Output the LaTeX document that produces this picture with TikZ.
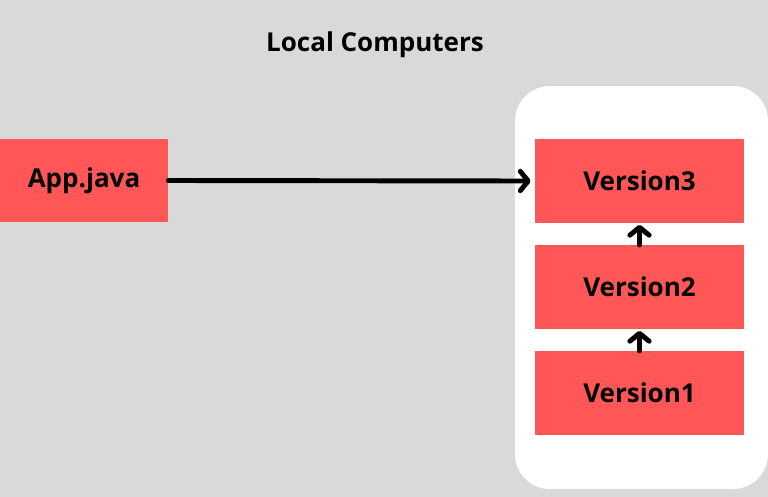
\documentclass[tikz,border=0pt]{standalone}
\usepackage{fontspec}
\setmainfont{Open Sans}
\usetikzlibrary{arrows.meta}
\definecolor{bggray}{HTML}{D9D9D9}
\definecolor{boxred}{HTML}{FF5757}
\tikzset{
    box/.style={fill=boxred, draw=none, minimum height=1.67cm, inner sep=0pt,
        font=\fontsize{14.8}{17}\selectfont\bfseries},
    link/.style={line width=2.8pt, line cap=round,
        -{Straight Barb[round,length=4.5pt,width=11pt]}}
}
\begin{document}
\begin{tikzpicture}[x=0.02cm, y=-0.02cm]
    % background
    \fill[bggray] (0,0) rectangle (768,497);
    \useasboundingbox (0,0) rectangle (768,497);
    \fill[white, rounded corners=0.7cm] (515,86) rectangle (768,489);
    \node (title) at (375,45) {\fontsize{14.8}{17}\selectfont\bfseries Local Computers};
    % boxes
    \node[box, minimum width=3.36cm] (app) at (84,180.5) {App.java};
    \node[box, minimum width=4.2cm]  (v3)  at (639.5,181) {Version3};
    \node[box, minimum width=4.2cm]  (v2)  at (639.5,287) {Version2};
    \node[box, minimum width=4.2cm]  (v1)  at (639.5,393) {Version1};
    % arrows
    \draw[link] (app.east) -- ([xshift=-2pt]v3.west);
    \draw[link] (v2.north) -- ([yshift=-1pt]v3.south);
    \draw[link] (v1.north) -- ([yshift=-1pt]v2.south);
\end{tikzpicture}
\end{document}
